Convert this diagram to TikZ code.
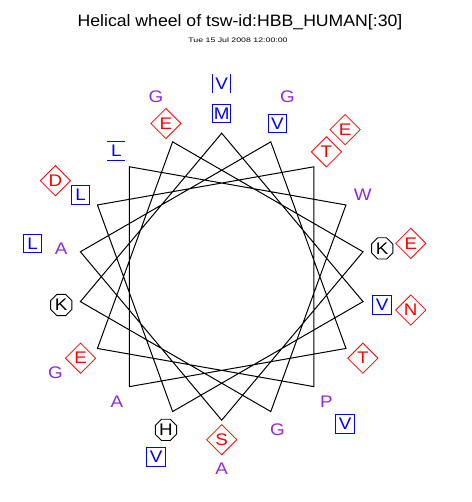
\documentclass[tikz,border=0pt]{standalone}
\usepackage{fontspec}
\setmainfont{Liberation Sans}
\newfontfamily\resfam[FakeStretch=1.12]{Liberation Sans}
\usetikzlibrary{shapes.geometric}
\definecolor{respurple}{RGB}{138,43,226}
\tikzset{
  x=1pt, y=1pt,
  resfont/.style={font=\resfam\fontsize{16.8}{18}\selectfont},
  reshyd/.style={resfont, draw=blue, text=blue, line width=1pt, minimum size=18.5pt, inner sep=0pt},
  reshydbare/.style={resfont, text=blue, minimum width=18pt, minimum height=18pt, inner sep=0pt},
  reschg/.style={resfont, diamond, aspect=1, draw=red, text=red, line width=0.8pt, minimum size=30.5pt, inner sep=0pt},
  resoct/.style={resfont, regular polygon, regular polygon sides=8, draw=black, text=black, line width=0.9pt, minimum size=23pt, inner sep=0pt},
  resplain/.style={resfont, text=respurple, inner sep=0pt},
  wheelline/.style={line width=1pt, black},
}
\begin{document}
\begin{tikzpicture}
\useasboundingbox (0,0) rectangle (471,-502);
\node[anchor=base, font=\fontsize{16.5}{18}\selectfont, xscale=1.07, inner sep=0pt] (title) at (240,-26.5) {Helical wheel of tsw-id:HBB\_HUMAN[:30]};
\node[anchor=base, font=\fontsize{6.5}{8}\selectfont, xscale=1.35, inner sep=0pt] (date) at (238,-43) {Tue 15 Jul 2008 12:00:00};
\begin{scope}[shift={(221.7,-276.7)}]
  \foreach \k in {0,...,17} {
    \coordinate (v\k) at ({90-100*\k}:143.5);
  }
  \draw[wheelline, line join=miter] (v0) -- (v1) -- (v2) -- (v3) -- (v4) -- (v5) -- (v6) -- (v7) -- (v8) -- (v9) -- (v10) -- (v11) -- (v12) -- (v13) -- (v14) -- (v15) -- (v16) -- (v17) -- cycle;
  \foreach \k/\l/\t/\a/\r in {
    0/M/reshyd/90/163, 1/V/reshyd/-10/163, 2/H/resoct/-110/163,
    3/L/reshyd/150/163, 4/T/reschg/50/163, 5/P/resplain/-50/163,
    6/E/reschg/210/163, 7/E/reschg/110/163, 8/K/resoct/10/163,
    9/S/reschg/-90/163, 10/A/resplain/170/163, 11/V/reshyd/70/163,
    12/T/reschg/-30/163, 13/A/resplain/-130/163, 14/L/reshydbare/130/164,
    15/W/resplain/30/163, 16/G/resplain/-70/163, 17/K/resoct/190/163,
    18/V/reshydbare/90/193, 19/N/reschg/-10/192, 20/V/reshyd/-110/192,
    21/D/reschg/150/192, 22/E/reschg/50/192, 23/V/reshyd/-50/192,
    24/G/resplain/210/192, 25/G/resplain/110/192, 26/E/reschg/10/192,
    27/A/resplain/-90/192, 28/L/reshyd/170/192, 29/G/resplain/70/192} {
    \node[\t] (r\k) at (\a:\r) {\l};
  }
\end{scope}
\draw[blue, line width=1pt] (r18.north west) -- (r18.south west) (r18.north east) -- (r18.south east);
\draw[blue, line width=1pt] (r14.north west) -- (r14.north east) (r14.south west) -- (r14.south east);
\end{tikzpicture}
\end{document}
